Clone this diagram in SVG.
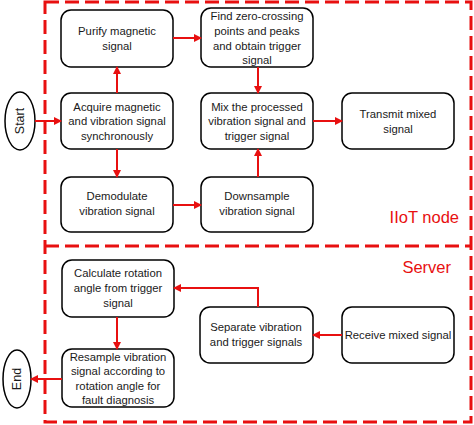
<svg xmlns="http://www.w3.org/2000/svg" width="474" height="425" viewBox="0 0 474 425">
<style>
.box{fill:#fff;stroke:#000;stroke-width:1.5}
.t{font-family:"Liberation Sans",Arial,sans-serif;font-size:11.3px;fill:#1a1a1a;text-anchor:middle}
.lbl{font-family:"Liberation Sans",Arial,sans-serif;font-size:16.5px;fill:#e81010;text-anchor:end}
.c{fill:none;stroke:#e81010;stroke-width:2}
.d{fill:none;stroke:#e81010;stroke-width:3;stroke-dasharray:14 6}
</style>
<defs>
<marker id="a" markerWidth="8" markerHeight="8" refX="7" refY="4" orient="auto" markerUnits="userSpaceOnUse">
<path d="M0,0 L8,4 L0,8 z" fill="#e81010"/>
</marker>
</defs>
<rect x="0" y="0" width="474" height="425" fill="#fff"/>
<g id="regions">
<rect class="d" x="45" y="2" width="426" height="420"/>
<line class="d" x1="45" y1="246" x2="471" y2="246"/>
<text class="lbl" x="459" y="223">IIoT node</text>
<text class="lbl" x="451" y="273">Server</text>
</g>
<g id="start"><ellipse class="box" cx="20" cy="121" rx="15" ry="29"/><text class="t" transform="translate(24,121) rotate(-90)" x="0" y="0" style="font-size:12.5px">Start</text></g>
<g id="end"><ellipse class="box" cx="17" cy="379" rx="14" ry="29"/><text class="t" transform="translate(21,379) rotate(-90)" x="0" y="0" style="font-size:12.5px">End</text></g>
<g id="purify"><rect class="box" x="61" y="10" width="112" height="57" rx="10"/><text class="t" x="117" y="35">Purify magnetic</text><text class="t" x="117" y="50">signal</text></g>
<g id="find"><rect class="box" x="201" y="8" width="112" height="59" rx="10"/><text class="t" x="257" y="20">Find zero-crossing</text><text class="t" x="257" y="35">points and peaks</text><text class="t" x="257" y="50">and obtain trigger</text><text class="t" x="257" y="64">signal</text></g>
<g id="acquire"><rect class="box" x="61" y="93" width="112" height="56" rx="10"/><text class="t" x="117" y="111">Acquire magnetic</text><text class="t" x="117" y="125">and vibration signal</text><text class="t" x="117" y="140">synchronously</text></g>
<g id="mix"><rect class="box" x="201" y="93" width="112" height="56" rx="10"/><text class="t" x="257" y="111">Mix the processed</text><text class="t" x="257" y="125">vibration signal and</text><text class="t" x="257" y="140">trigger signal</text></g>
<g id="transmit"><rect class="box" x="342" y="93" width="112" height="56" rx="10"/><text class="t" x="398" y="118">Transmit mixed</text><text class="t" x="398" y="133">signal</text></g>
<g id="demod"><rect class="box" x="61" y="177" width="112" height="55" rx="10"/><text class="t" x="117" y="200">Demodulate</text><text class="t" x="117" y="215">vibration signal</text></g>
<g id="downsample"><rect class="box" x="201" y="177" width="112" height="55" rx="10"/><text class="t" x="257" y="200">Downsample</text><text class="t" x="257" y="215">vibration signal</text></g>
<g id="calc"><rect class="box" x="62" y="260" width="112" height="57" rx="10"/><text class="t" x="118" y="277">Calculate rotation</text><text class="t" x="118" y="292">angle from trigger</text><text class="t" x="118" y="307">signal</text></g>
<g id="resample"><rect class="box" x="62" y="349" width="112" height="58" rx="10"/><text class="t" x="118" y="361">Resample vibration</text><text class="t" x="118" y="375">signal according to</text><text class="t" x="118" y="390">rotation angle for</text><text class="t" x="118" y="404">fault diagnosis</text></g>
<g id="separate"><rect class="box" x="200" y="307" width="113" height="56" rx="10"/><text class="t" x="256" y="331">Separate vibration</text><text class="t" x="256" y="346">and trigger signals</text></g>
<g id="receive"><rect class="box" x="342" y="307" width="112" height="56" rx="10"/><text class="t" x="398" y="339">Receive mixed signal</text></g>
<g id="connectors">
<line class="c" x1="35" y1="121" x2="61" y2="121" marker-end="url(#a)"/>
<line class="c" x1="117" y1="93" x2="117" y2="67" marker-end="url(#a)"/>
<line class="c" x1="173" y1="38" x2="201" y2="38" marker-end="url(#a)"/>
<line class="c" x1="258" y1="67" x2="258" y2="93" marker-end="url(#a)"/>
<line class="c" x1="117" y1="149" x2="117" y2="177" marker-end="url(#a)"/>
<line class="c" x1="173" y1="205" x2="201" y2="205" marker-end="url(#a)"/>
<line class="c" x1="258" y1="177" x2="258" y2="149" marker-end="url(#a)"/>
<line class="c" x1="313" y1="121" x2="342" y2="121" marker-end="url(#a)"/>
<line class="c" x1="342" y1="335" x2="313" y2="335" marker-end="url(#a)"/>
<polyline class="c" points="258,307 258,288 174,288" marker-end="url(#a)"/>
<line class="c" x1="117" y1="317" x2="117" y2="349" marker-end="url(#a)"/>
<line class="c" x1="62" y1="379" x2="31" y2="379" marker-end="url(#a)"/>
</g>
</svg>
